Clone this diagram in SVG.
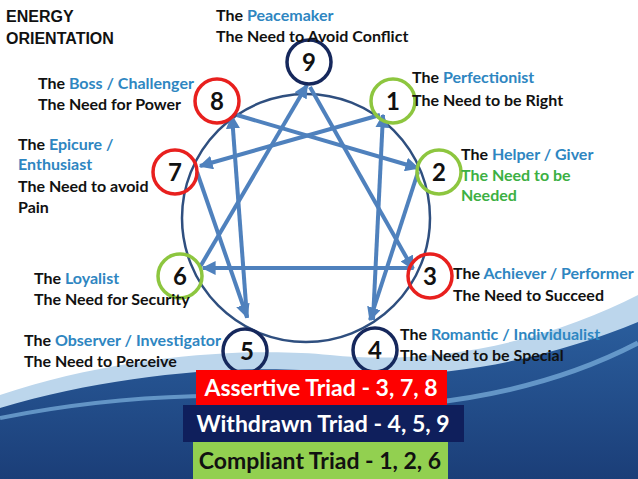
<svg xmlns="http://www.w3.org/2000/svg" width="638" height="479" viewBox="0 0 638 479">
<defs>
<marker id="ah" viewBox="0 0 10 10" refX="9" refY="5" markerWidth="3.5" markerHeight="3.5" orient="auto"><path d="M0,0L10,5L0,10z" fill="#4f81bd"/></marker>
<linearGradient id="sea" x1="0" y1="0" x2="0" y2="1"><stop offset="0" stop-color="#2a5d9c"/><stop offset="1" stop-color="#1b3e78"/></linearGradient>
<style>
text{font-family:Lato,"Open Sans",sans-serif;font-weight:bold;font-size:16px;fill:#111}
.b{fill:#2e86c1}.g{fill:#3cb043}
.n{font-size:24px;text-anchor:middle}
.ring{fill:none;stroke-width:3.5}
.red{stroke:#e8201e}.grn{stroke:#8dc63f}.nav{stroke:#16285c}
.conn line{stroke:#4f81bd;stroke-width:4;marker-end:url(#ah)}
.tri{font-size:23px;text-anchor:middle}
</style>
</defs>
<rect width="638" height="479" fill="#fff"/>
<path d="M0,395 C120,355 250,347 330,355 C450,367 560,335 638,295 L638,479 L0,479z" fill="#bcd6ec"/>
<path d="M0,408 C120,372 250,364 330,372 C450,384 560,354 638,322 L638,479 L0,479z" fill="url(#sea)"/>
<path d="M0,418 C140,390 260,393 340,403" fill="none" stroke="#7fb3e0" stroke-width="4" opacity="0.7"/>
<path d="M430,403 C520,393 590,368 638,343" fill="none" stroke="#7fb3e0" stroke-width="5" opacity="0.7"/>
<circle cx="306" cy="218" r="124" fill="none" stroke="#2f4f7f" stroke-width="2.5"/>
<g class="conn">
<line x1="380" y1="115" x2="200" y2="166"/>
<line x1="237" y1="115" x2="418" y2="168"/>
<line x1="310" y1="87" x2="413" y2="269"/>
<line x1="200" y1="267" x2="307" y2="85"/>
<line x1="413" y1="268" x2="203" y2="268"/>
<line x1="197" y1="172" x2="247" y2="317"/>
<line x1="247" y1="318" x2="232" y2="116"/>
<line x1="418" y1="172" x2="370" y2="320"/>
<line x1="373" y1="320" x2="383" y2="115"/>
</g>
<g id="n9"><circle class="ring nav" cx="309" cy="62" r="22"/><text class="n" x="309" y="71">9</text></g>
<g id="n1"><circle class="ring grn" cx="393" cy="101" r="22"/><text class="n" x="393" y="110">1</text></g>
<g id="n2"><circle class="ring grn" cx="439" cy="172" r="22"/><text class="n" x="439" y="181">2</text></g>
<g id="n3"><circle class="ring red" cx="430" cy="276" r="22"/><text class="n" x="430" y="285">3</text></g>
<g id="n4"><circle class="ring nav" cx="375" cy="350" r="22"/><text class="n" x="375" y="359">4</text></g>
<g id="n5"><circle class="ring nav" cx="245" cy="351" r="22"/><text class="n" x="247" y="360">5</text></g>
<g id="n6"><circle class="ring grn" cx="180" cy="276" r="22"/><text class="n" x="180" y="285">6</text></g>
<g id="n7"><circle class="ring red" cx="175" cy="172" r="22"/><text class="n" x="175" y="181">7</text></g>
<g id="n8"><circle class="ring red" cx="217" cy="101" r="22"/><text class="n" x="217" y="110">8</text></g>
<g id="labels">
<text x="6" y="22" style="font-family:'Liberation Sans',Arial,sans-serif;font-size:16px">ENERGY</text>
<text x="6" y="44" style="font-family:'Liberation Sans',Arial,sans-serif;font-size:16px">ORIENTATION</text>
<text x="216" y="21">The <tspan class="b">Peacemaker</tspan></text>
<text x="216" y="42">The Need to Avoid Conflict</text>
<text x="38" y="89">The <tspan class="b">Boss / Challenger</tspan></text>
<text x="38" y="110">The Need for Power</text>
<text x="412" y="83">The <tspan class="b">Perfectionist</tspan></text>
<text x="412" y="106">The Need to be Right</text>
<text x="18" y="150">The <tspan class="b">Epicure /</tspan></text>
<text class="b" x="18" y="170">Enthusiast</text>
<text x="18" y="192">The Need to avoid</text>
<text x="18" y="213">Pain</text>
<text x="461" y="160">The <tspan class="b">Helper / Giver</tspan></text>
<text class="g" x="461" y="181">The Need to be</text>
<text class="g" x="461" y="201">Needed</text>
<text x="34" y="284">The <tspan class="b">Loyalist</tspan></text>
<text x="34" y="305">The Need for Security</text>
<text x="453" y="279">The <tspan class="b">Achiever / Performer</tspan></text>
<text x="453" y="301">The Need to Succeed</text>
<text x="24" y="346">The <tspan class="b">Observer / Investigator</tspan></text>
<text x="24" y="367">The Need to Perceive</text>
<text x="400" y="340">The <tspan class="b">Romantic / Individualist</tspan></text>
<text x="400" y="361">The Need to be Special</text>
</g>
<g id="triads">
<rect x="196" y="370" width="251" height="35" fill="#fe0000"/>
<text class="tri" x="321" y="396" style="fill:#fff">Assertive Triad - 3, 7, 8</text>
<rect x="183" y="405" width="281" height="37" fill="#0f1f5c"/>
<text class="tri" x="323" y="432" style="fill:#fff">Withdrawn Triad - 4, 5, 9</text>
<rect x="193" y="442" width="255" height="37" fill="#92d050"/>
<text class="tri" x="320" y="469" style="fill:#111">Compliant Triad - 1, 2, 6</text>
</g>
</svg>
